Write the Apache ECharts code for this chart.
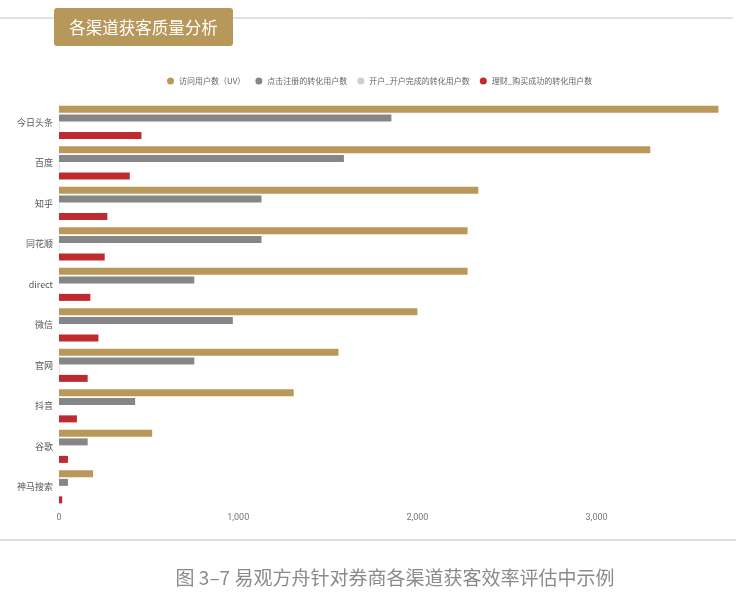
<!DOCTYPE html>
<html>
<head>
<meta charset="utf-8">
<script src="https://cdn.jsdelivr.net/npm/echarts@6/dist/echarts.min.js"></script>
<style>
    html, body { margin: 0; padding: 0; background: #fff; }
    #main { width: 751px; height: 596px; }
</style>
</head>
<body>
<div id="main"></div>
<script>
    // 渠道
    const channels = ['今日头条', '百度', '知乎', '同花顺', 'direct', '微信', '官网', '抖音', '谷歌', '神马搜索']
    const seriesNames = ['访问用户数（UV）', '点击注册的转化用户数', '开户_开户完成的转化用户数', '理财_购买成功的转化用户数']
    // 各系列数据
    const uvData = [3680, 3300, 2340, 2280, 2280, 2000, 1560, 1310, 520, 190]
    const registerData = [1855, 1590, 1130, 1130, 755, 970, 755, 425, 160, 50]
    const openData = [4, 4, 2, 3, 1, 1, 3, 1, 1, 1]
    const buyData = [460, 395, 270, 255, 175, 220, 160, 100, 50, 18]
    const xTicks = [0, 1000, 2000, 3000]

    const colors = ['#b8995a', '#868686', '#cfcfcf', '#bf2a2f']
    const gold = '#b8975b'

    let chartDom = document.getElementById('main')
    let myChart = echarts.init(chartDom)

    const allData = [uvData, registerData, openData, buyData]
    const series = seriesNames.map((name, i) => {
        return {
            name: name,
            type: 'bar',
            data: allData[i],
            barWidth: 7,
            barGap: '25%',
            itemStyle: { color: colors[i] },
            animation: false
        }
    })

    const option = {
        backgroundColor: '#fff',
        color: colors,
        legend: {
            top: 72,
            left: 162,
            icon: 'circle',
            itemWidth: 7,
            itemHeight: 7,
            itemGap: 10,
            textStyle: { fontSize: 8, color: '#666', fontFamily: 'Noto Sans CJK SC' },
            data: seriesNames
        },
        grid: {
            left: 59,
            right: 29,
            top: 102,
            bottom: 89,
            containLabel: false
        },
        xAxis: {
            type: 'value',
            min: 0,
            max: 3700,
            interval: 1000,
            splitLine: { show: false },
            axisLine: { show: false },
            axisTick: { show: false },
            axisLabel: {
                showMaxLabel: false,
                fontSize: 9,
                color: '#777',
                margin: 6,
                fontFamily: 'Roboto',
                formatter: function (val) {
                    return xTicks.indexOf(val) >= 0 ? val.toLocaleString('en-US') : ''
                }
            }
        },
        yAxis: {
            type: 'category',
            data: channels,
            inverse: true,
            axisLine: { show: false },
            axisTick: { show: false },
            axisLabel: {
                fontSize: 9,
                color: '#555',
                margin: 6,
                fontFamily: 'Noto Sans CJK SC'
            }
        },
        series: series,
        graphic: [
            // 顶部横线
            {
                type: 'line',
                shape: { x1: 0, y1: 18, x2: 733, y2: 18 },
                style: { stroke: '#c4c4c4', lineWidth: 1 }
            },
            // 标题框
            {
                type: 'rect',
                shape: { x: 54, y: 8, width: 179, height: 38, r: 3 },
                style: { fill: gold }
            },
            {
                type: 'text',
                x: 143.5,
                y: 28,
                style: {
                    text: '各渠道获客质量分析',
                    fill: '#fff',
                    fontSize: 16.5,
                    align: 'center',
                    verticalAlign: 'middle',
                    fontFamily: 'Noto Sans CJK SC'
                }
            },
            // 底部横线
            {
                type: 'line',
                shape: { x1: 0, y1: 540, x2: 736, y2: 540 },
                style: { stroke: '#d4d4d4', lineWidth: 1.5 }
            },
            // 图注
            {
                type: 'text',
                x: 395,
                y: 578,
                style: {
                    text: '图 3–7 易观方舟针对券商各渠道获客效率评估中示例',
                    fill: '#8a8a8a',
                    fontSize: 19,
                    align: 'center',
                    verticalAlign: 'middle',
                    fontFamily: 'Noto Sans CJK SC'
                }
            }
        ]
    }

    option && myChart.setOption(option)
</script>
</body>
</html>
